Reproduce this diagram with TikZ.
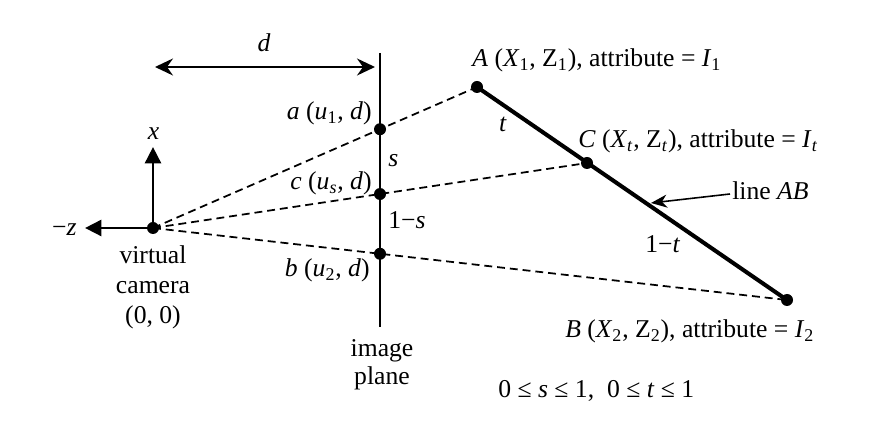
\documentclass[tikz,border=0pt]{standalone}
\usepackage{fontspec}
\setmainfont{Liberation Serif}
\usetikzlibrary{arrows.meta}
\newcommand{\itl}[1]{\textit{#1}}
\newcommand{\sbs}[1]{\textsubscript{#1}}
\begin{document}
\begin{tikzpicture}[x=0.02cm,y=-0.02cm,
  lbl/.style={inner sep=0pt, font=\fontsize{14.6}{17}\selectfont},
  dot/.style={circle, fill=black, inner sep=0pt, minimum size=0.24cm},
  ray/.style={line width=1pt, dash pattern=on 4.5pt off 2.8pt},
  axis/.style={line width=1.7pt, -{Triangle[length=0.33cm,width=0.32cm]}},
  darrow/.style={line width=1.1pt, {Stealth[length=0.36cm,width=0.34cm,inset=0.12cm]}-{Stealth[length=0.36cm,width=0.34cm,inset=0.12cm]}},
  larrow/.style={line width=0.9pt, -{Stealth[length=0.32cm,width=0.26cm,inset=0.1cm]}},
]
\useasboundingbox (0,0) rectangle (879,421);
% key points
\coordinate (cam) at (153,228);
\coordinate (A) at (477,87);
\coordinate (C) at (587,163);
\coordinate (B) at (787,300);
\coordinate (ptop) at (380,53);
\coordinate (pbot) at (380,327);
\coordinate (a) at (intersection of cam--A and ptop--pbot);
\coordinate (c) at (intersection of cam--C and ptop--pbot);
\coordinate (b) at (intersection of cam--B and ptop--pbot);
\coordinate (xtip) at (153,147);
\coordinate (ztip) at (85,228);
\coordinate (dl) at (155,67);
\coordinate (dr) at (375,67);
\coordinate (labtail) at (730,194);
\coordinate (labtip) at (651,203);
% image plane
\draw[line width=1.7pt] (ptop) -- (pbot);
% rays
\draw[ray] (cam) -- (A);
\draw[ray] (cam) -- (C);
\draw[ray] (cam) -- (B);
% line AB
\draw[line width=2.3pt] (A) -- (B);
% axes
\draw[axis] (cam) -- (xtip);
\draw[axis] (cam) -- (ztip);
% d arrow
\draw[darrow] (dl) -- (dr);
% line AB pointer
\draw[larrow] (labtail) -- (labtip);
% dots
\node[dot] (camdot) at (cam) {};
\node[dot] (Adot) at (A) {};
\node[dot] (Cdot) at (C) {};
\node[dot] (Bdot) at (B) {};
\node[dot] (adot) at (a) {};
\node[dot] (cdot) at (c) {};
\node[dot] (bdot) at (b) {};
% labels
\node[lbl, anchor=base] (dlab) at (264,52) {\itl{d}};
\node[lbl, anchor=base] (xlab) at (153.5,140) {\itl{x}};
\node[lbl, anchor=base east] (zlab) at (77,236) {−\itl{z}};
\node[lbl, anchor=base] (v1) at (153,264) {virtual};
\node[lbl, anchor=base] (v2) at (153,294) {camera};
\node[lbl, anchor=base] (v3) at (153,324) {(0, 0)};
\node[lbl, anchor=base] (ip1) at (382,357) {image};
\node[lbl, anchor=base] (ip2) at (382,385) {plane};
\node[lbl, anchor=base east] (alab) at (372,120) {\itl{a} (\itl{u}\sbs{1}, \itl{d})};
\node[lbl, anchor=base east] (clab) at (372,190) {\itl{c} (\itl{u}\sbs{\itl{s}}, \itl{d})};
\node[lbl, anchor=base east] (blab) at (370,277) {\itl{b} (\itl{u}\sbs{2}, \itl{d})};
\node[lbl, anchor=base west] (slab) at (388,167) {\itl{s}};
\node[lbl, anchor=base west] (oslab) at (388,229) {1−\itl{s}};
\node[lbl, anchor=base west] (Alab) at (472,67) {\itl{A} (\itl{X}\sbs{1}, Z\sbs{1}), attribute = \itl{I}\sbs{1}};
\node[lbl, anchor=base] (tlab) at (503,132) {\itl{t}};
\node[lbl, anchor=base west] (Clab) at (578,148) {\itl{C} (\itl{X}\sbs{\itl{t}}, Z\sbs{\itl{t}}), attribute = \itl{I}\sbs{\itl{t}}};
\node[lbl, anchor=base west] (ABlab) at (732,200) {line \itl{AB}};
\node[lbl, anchor=base west] (otlab) at (645,253) {1−\itl{t}};
\node[lbl, anchor=base west] (Blab) at (565,338) {\itl{B} (\itl{X}\sbs{2}, Z\sbs{2}), attribute = \itl{I}\sbs{2}};
\node[lbl, anchor=base west] (rng) at (498,398) {0 ≤ \itl{s} ≤ 1,\ \ 0 ≤ \itl{t} ≤ 1};
\end{tikzpicture}
\end{document}
